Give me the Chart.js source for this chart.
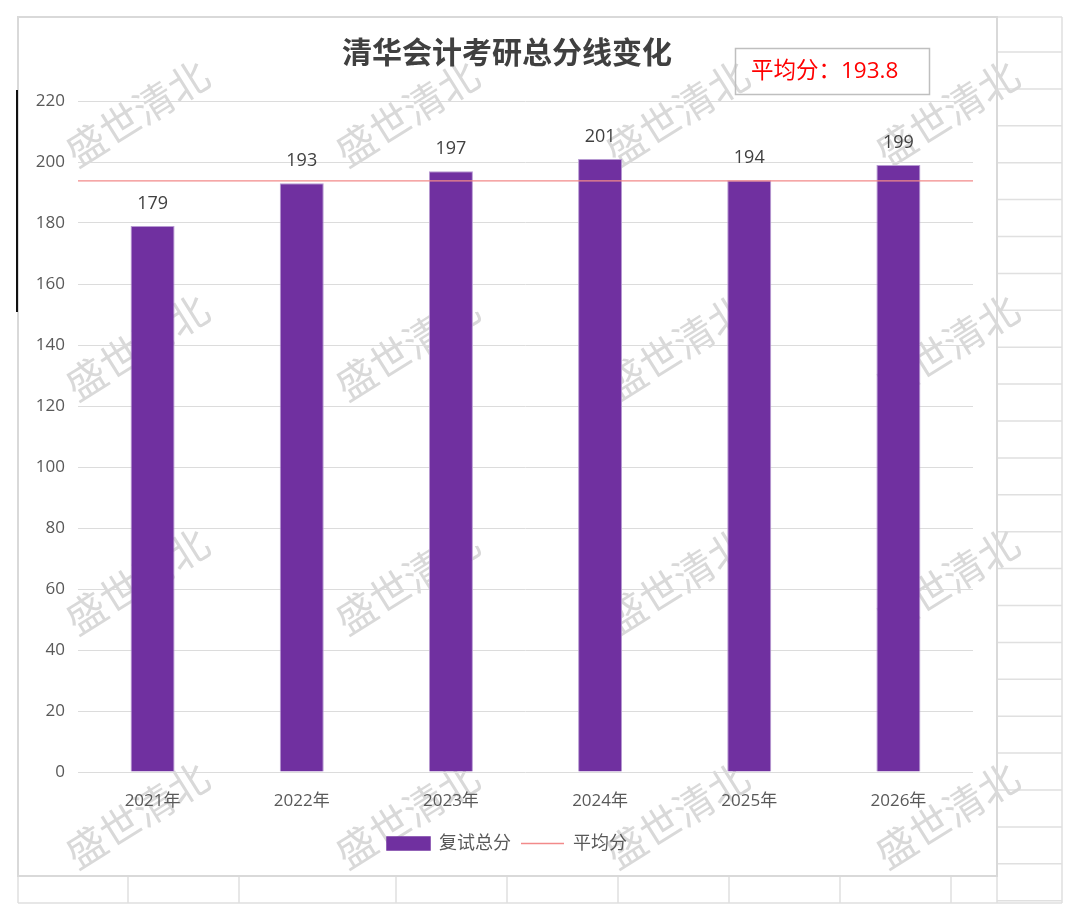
<!DOCTYPE html>
<html><head><meta charset="utf-8">
<script src="https://cdn.jsdelivr.net/npm/chart.js@4.4.1/dist/chart.umd.min.js"></script>
<style>html,body{margin:0;padding:0;background:#fff;}#wrap{width:1080px;height:922px;position:relative;}</style>
</head><body><div id="wrap"><canvas id="c" width="1080" height="922"></canvas></div>
<script>
// ---- data ----
const categories = ['2021年','2022年','2023年','2024年','2025年','2026年'];
const retestScores = [179, 193, 197, 201, 194, 199];
const averageScore = 193.8;
const yTickMin = 0;
const yTickMax = 220;
const yTickStep = 20;
const seriesNames = ['复试总分', '平均分'];
const titleText = '清华会计考研总分线变化';
const avgBoxLabel = '平均分：';
const watermarkText = '盛世清北';

// ---- styles ----
const FONT = '"Open Sans", "Noto Sans CJK SC", sans-serif';
const CJK = '"Noto Sans CJK SC", sans-serif';
const barColor = '#7030A0';
const avgColor = '#f28a8a';

const sheetPlugin = {
  id: 'sheet',
  beforeDraw(chart) {
    const ctx = chart.ctx;
    ctx.save();
    ctx.fillStyle = '#ffffff';
    ctx.fillRect(0, 0, chart.width, chart.height);
    ctx.strokeStyle = '#e0e0e0';
    ctx.lineWidth = 1.5;
    const rx0 = 997, rx1 = 1062;
    const rows = [17];
    for (let y = 52; y <= 905; y += 36.9) rows.push(y);
    ctx.beginPath();
    rows.forEach(y => { ctx.moveTo(rx0, y); ctx.lineTo(rx1, y); });
    ctx.moveTo(rx1, 17); ctx.lineTo(rx1, 903);
    ctx.moveTo(rx0, 17); ctx.lineTo(rx0, 903);
    ctx.moveTo(18, 903); ctx.lineTo(rx1, 903);
    [18, 128, 239, 396, 507, 618, 729, 840, 951].forEach(x => { ctx.moveTo(x, 876); ctx.lineTo(x, 903); });
    ctx.stroke();
    ctx.fillStyle = '#ffffff';
    ctx.fillRect(18, 17, 979, 859);
    ctx.strokeStyle = '#d9d9d9';
    ctx.lineWidth = 2;
    ctx.strokeRect(18, 17, 979, 859);
    ctx.strokeStyle = '#111';
    ctx.lineWidth = 2;
    ctx.beginPath(); ctx.moveTo(17, 90); ctx.lineTo(17, 312); ctx.stroke();
    // watermark (behind everything of the chart)
    ctx.fillStyle = '#d9d9d9';
    ctx.font = '400 40px ' + CJK;
    ctx.textAlign = 'center';
    ctx.textBaseline = 'middle';
    const cols = [137, 407, 677, 947];
    const rws = [113, 347, 581, 815];
    rws.forEach(y => cols.forEach(x => {
      ctx.save();
      ctx.translate(x, y);
      ctx.rotate(-32 * Math.PI / 180);
      ctx.fillText(watermarkText, 0, 0);
      ctx.restore();
    }));
    ctx.restore();
  },
  afterDatasetsDraw(chart) {
    const ctx = chart.ctx;
    const meta = chart.getDatasetMeta(0);
    ctx.save();
    ctx.fillStyle = '#404040';
    ctx.font = '18px ' + FONT;
    ctx.textAlign = 'center';
    ctx.textBaseline = 'middle';
    meta.data.forEach((el, i) => {
      ctx.fillText(String(retestScores[i]), el.x, el.y - 22);
    });
    ctx.restore();
  },
  afterDraw(chart) {
    const ctx = chart.ctx;
    ctx.save();
    ctx.strokeStyle = '#bfbfbf';
    ctx.lineWidth = 1.5;
    ctx.strokeRect(735.5, 48.5, 194, 46);
    ctx.fillStyle = '#ff0000';
    ctx.font = '22.5px ' + FONT;
    ctx.textAlign = 'left';
    ctx.textBaseline = 'middle';
    ctx.fillText(avgBoxLabel + averageScore.toFixed(1), 751, 72);
    ctx.restore();
  }
};

new Chart(document.getElementById('c'), {
  data: {
    labels: categories,
    datasets: [
      {
        type: 'bar',
        label: seriesNames[0],
        data: retestScores,
        backgroundColor: barColor,
        borderColor: '#b79ad2',
        borderWidth: 1,
        grouped: false,
        categoryPercentage: 1,
        barPercentage: 0.295,
        xAxisID: 'x',
        yAxisID: 'y',
        order: 1
      },
      {
        type: 'line',
        label: seriesNames[1],
        data: [{x: 0, y: averageScore}, {x: 1, y: averageScore}],
        borderColor: avgColor,
        borderWidth: 1.2,
        pointRadius: 0,
        xAxisID: 'x2',
        yAxisID: 'y',
        order: 0
      }
    ]
  },
  options: {
    responsive: false,
    devicePixelRatio: 1,
    animation: false,
    events: [],
    layout: { padding: { left: 0, right: 66, top: 0, bottom: 59.5 } },
    scales: {
      x: {
        type: 'category',
        grid: { display: false },
        border: { display: false },
        ticks: { color: '#595959', font: { family: FONT, size: 17 }, padding: 11 },
        afterFit(s) { s.height = 52.5; }
      },
      x2: { type: 'linear', min: 0, max: 1, display: false },
      y: {
        min: yTickMin, max: yTickMax,
        position: 'left',
        ticks: { stepSize: yTickStep, color: '#595959', font: { family: FONT, size: 17 }, padding: 13 },
        grid: { color: '#dcdcdc', lineWidth: 1, drawTicks: false },
        border: { display: false },
        afterFit(s) { s.width = 78; }
      },
      yR: {
        type: 'linear',
        position: 'right',
        display: true,
        min: 0, max: 1,
        ticks: { display: false },
        grid: { display: false, drawTicks: false },
        border: { display: false },
        afterFit(s) { s.width = 41; }
      }
    },
    plugins: {
      tooltip: { enabled: false },
      title: {
        display: true,
        text: titleText,
        color: '#404040',
        font: { family: CJK, size: 30, weight: 'bold' },
        padding: { top: 34, bottom: 31 }
      },
      legend: {
        display: true,
        position: 'bottom',
        labels: {
          usePointStyle: true,
          pointStyleWidth: 43,
          boxHeight: 13,
          padding: 10,
          color: '#595959',
          font: { family: FONT, size: 18 },
          generateLabels(chart) {
            return chart.data.datasets.map((ds, i) => ({
              text: ds.label,
              fillStyle: i === 0 ? barColor : 'rgba(0,0,0,0)',
              strokeStyle: i === 0 ? barColor : avgColor,
              lineWidth: 1.5,
              pointStyle: i === 0 ? 'rect' : 'line',
              fontColor: '#595959',
              hidden: false,
              datasetIndex: i
            }));
          }
        }
      }
    }
  },
  plugins: [sheetPlugin]
});
</script>
</body></html>
